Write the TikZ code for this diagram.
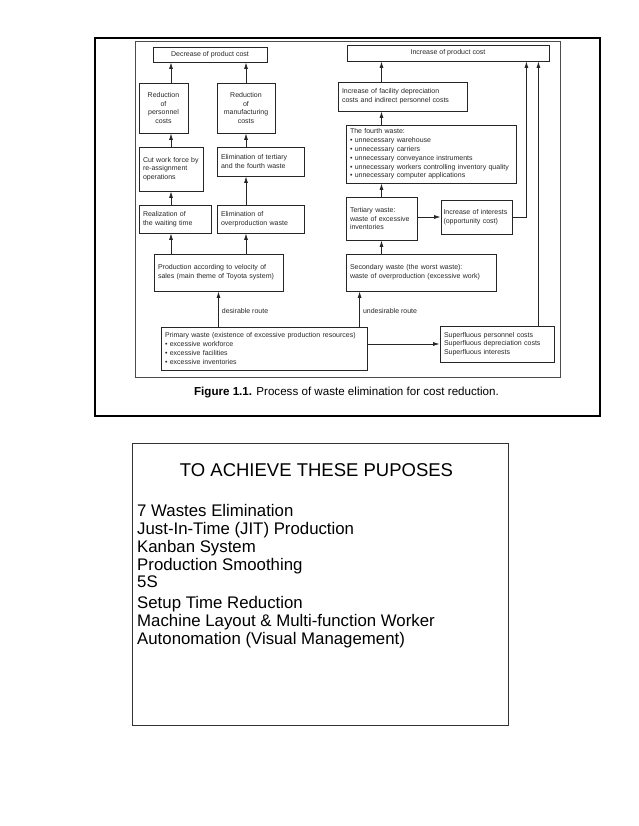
\documentclass[tikz,border=0pt]{standalone}
\usepackage{fontspec}
\setmainfont{Liberation Sans}
\usetikzlibrary{arrows.meta,positioning,calc}

\newcommand{\boxfont}{\fontsize{7}{8.8}\selectfont\hyphenpenalty=10000}

\begin{document}
\begin{tikzpicture}[x=1pt,y=-1pt,
    wbox/.style={draw, black!85, text=black!85, line width=0.8pt, inner xsep=4pt, inner ysep=1pt, font=\boxfont, align=left},
    arr/.style={-{Latex[length=6.5pt,width=4pt]}, black!85, line width=0.8pt},
    lbl/.style={font=\boxfont, text=black!85, anchor=west, inner sep=1pt}]
    \useasboundingbox (0,0) rectangle (638,826);

    % frames of the figure
    \draw[line width=2.6pt] (95,38) rectangle (600,416);
    \draw[black!70, line width=0.8pt] (135,41) rectangle (560,377);

    % left side: cost reduction
    \node[wbox, align=center, minimum width=114, minimum height=15] (dec) at (210,54.5) {Decrease of product cost};
    \node[wbox, align=center, inner xsep=2pt, minimum width=49, minimum height=50] (redpers) at (163.5,108) {Reduction\\of\\personnel\\costs};
    \node[wbox, align=center, inner xsep=2pt, minimum width=58, minimum height=50] (redmanu) at (246,108) {Reduction\\of\\manufacturing\\costs};
    \node[wbox, text width=56, minimum height=44] (cutwork) at (171,169) {Cut work force by\\re-assignment\\operations};
    \node[wbox, text width=79, minimum height=29] (elimter) at (260.5,161.5) {Elimination of tertiary\\and the fourth waste};
    \node[wbox, text width=64, minimum height=28] (realiz) at (175,219) {Realization of\\the waiting time};
    \node[wbox, text width=79, minimum height=28] (elimover) at (260.5,219) {Elimination of\\overproduction waste};
    \node[wbox, text width=121, minimum height=37] (prodvel) at (218.5,272.5) {Production according to velocity of\\sales (main theme of Toyota system)};
    \node[wbox, text width=198, minimum height=43] (primary) at (264,348.5) {Primary waste (existence of excessive production resources)\\\textbullet{} excessive workforce\\\textbullet{} excessive facilities\\\textbullet{} excessive inventories};

    % right side: cost increase
    \node[wbox, align=center, minimum width=202, minimum height=16] (inc) at (448,53) {Increase of product cost};
    \node[wbox, text width=121, minimum height=29] (facil) at (402.5,96.5) {Increase of facility depreciation\\costs and indirect personnel costs};
    \node[wbox, text width=162, minimum height=58] (fourth) at (431,154) {The fourth waste:\\\textbullet{} unnecessary warehouse\\\textbullet{} unnecessary carriers\\\textbullet{} unnecessary conveyance instruments\\\textbullet{} unnecessary workers controlling inventory quality\\\textbullet{} unnecessary computer applications};
    \node[wbox, text width=63, minimum height=43] (tertiary) at (381.5,218.5) {Tertiary waste:\\waste of excessive\\inventories};
    \node[wbox, inner xsep=2.5pt, text width=66, minimum height=34] (interest) at (476.5,217) {Increase of interests\\(opportunity cost)};
    \node[wbox, text width=142, minimum height=37] (secondary) at (421,272.5) {Secondary waste (the worst waste):\\waste of overproduction (excessive work)};
    \node[wbox, text width=106, minimum height=36] (superfl) at (497,344) {Superfluous personnel costs\\Superfluous depreciation costs\\Superfluous interests};

    \coordinate (riseA) at ([xshift=-23]inc.south east);
    \coordinate (riseB) at ([xshift=-11]inc.south east);
    \coordinate (undes) at ([xshift=14]secondary.south west);

    % connectors, left
    \draw[arr] (redpers.north -| cutwork) -- (dec.south -| cutwork);
    \draw[arr] (redmanu.north) -- (redmanu.north |- dec.south);
    \draw[arr] (cutwork.north) -- (cutwork.north |- redpers.south);
    \draw[arr] (elimter.north -| redmanu) -- (redmanu.south);
    \draw[arr] (realiz.north -| cutwork) -- (cutwork.south);
    \draw[arr] (elimover.north -| redmanu) -- (elimter.south -| redmanu);
    \draw[arr] (prodvel.north -| cutwork) -- (realiz.south -| cutwork);
    \draw[arr] (prodvel.north -| redmanu) -- (elimover.south -| redmanu);
    \draw[arr] (primary.north -| prodvel) -- (prodvel.south) node[lbl, pos=0.45, xshift=2pt] {desirable route};

    % connectors, right
    \draw[arr] (facil.north -| tertiary) -- (inc.south -| tertiary);
    \draw[arr] (fourth.north -| tertiary) -- (facil.south -| tertiary);
    \draw[arr] (tertiary.north) -- (fourth.south -| tertiary);
    \draw[arr] (secondary.north -| tertiary) -- (tertiary.south);
    \draw[arr] (primary.north -| undes) -- (undes) node[lbl, pos=0.45, xshift=2pt] {undesirable route};
    \draw[arr] (tertiary.east |- interest.west) -- (interest.west);
    \draw[arr] (interest.east) -| (riseA);
    \draw[arr] (superfl.north -| riseB) -- (riseB);
    \draw[arr] (primary.east |- superfl.west) -- (superfl.west);

    \node[font=\fontsize{11.6}{14}\selectfont] (caption) at (346.5,393) {\textbf{Figure 1.1.} Process of waste elimination for cost reduction.};

    % lower panel
    \node[draw, line width=0.9pt, black!80, minimum width=376, minimum height=282] (goals) at (320,584) {};
    \node[font=\fontsize{18.5}{22}\selectfont] (title) at (316.5,470) {TO ACHIEVE THESE PUPOSES};
    \node[anchor=north west, inner sep=0pt, align=left, font=\fontsize{16.8}{17.9}\selectfont] (ways) at (137,504) {7 Wastes Elimination\\Just-In-Time (JIT) Production\\Kanban System\\Production Smoothing\\5S\\[3pt]Setup Time Reduction\\Machine Layout \& Multi-function Worker\\Autonomation (Visual Management)};
\end{tikzpicture}
\end{document}
